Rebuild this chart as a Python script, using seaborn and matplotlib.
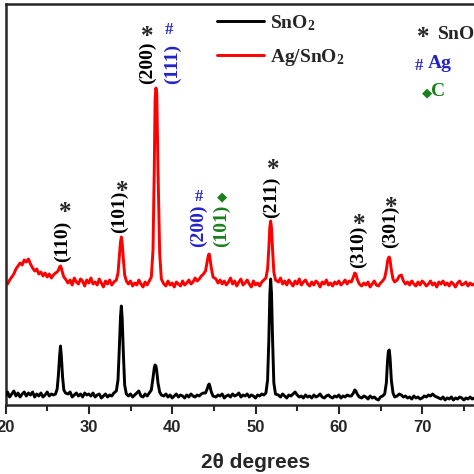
import numpy as np
import pandas as pd
import matplotlib.pyplot as plt
import seaborn as sns

# 2-theta positions (deg); baseline every 0.25 deg, denser on peaks
two_theta = [
    19.5, 19.75, 20.0, 20.25, 20.5, 20.75, 21.0, 21.25, 21.5, 21.75, 22.0, 22.25, 22.5,
    22.75, 23.0, 23.25, 23.5, 23.75, 24.0, 24.25, 24.5, 24.75, 25.0, 25.25, 25.5, 25.75,
    26.0, 26.2, 26.35, 26.5, 26.6, 26.7, 26.85, 27.0, 27.2,
    27.5, 27.75, 28.0, 28.25, 28.5, 28.75, 29.0, 29.25, 29.5, 29.75, 30.0, 30.25, 30.5,
    30.75, 31.0, 31.25, 31.5, 31.75, 32.0, 32.25, 32.5, 32.75, 33.0,
    33.3, 33.5, 33.65, 33.8, 33.9, 34.0, 34.15, 34.3, 34.5,
    34.75, 35.0, 35.25, 35.5, 35.75, 36.0, 36.25, 36.5, 36.75, 37.0, 37.25,
    37.5, 37.7, 37.85, 37.95, 38.05, 38.15, 38.3, 38.5, 38.7,
    39.0, 39.25, 39.5, 39.75, 40.0, 40.25, 40.5, 40.75, 41.0, 41.25, 41.5, 41.75, 42.0,
    42.25, 42.5, 42.75, 43.0, 43.25, 43.5, 43.75,
    44.0, 44.2, 44.35, 44.45, 44.55, 44.7, 44.9,
    45.25, 45.5, 45.75, 46.0, 46.25, 46.5, 46.75, 47.0, 47.25, 47.5, 47.75, 48.0, 48.25,
    48.5, 48.75, 49.0, 49.25, 49.5, 49.75, 50.0, 50.25, 50.5, 50.75, 51.0,
    51.25, 51.45, 51.6, 51.72, 51.82, 51.92, 52.05, 52.2, 52.4,
    52.75, 53.0, 53.25, 53.5, 53.75, 54.0, 54.25, 54.5, 54.75, 55.0, 55.25, 55.5, 55.75,
    56.0, 56.25, 56.5, 56.75, 57.0, 57.25, 57.5, 57.75, 58.0, 58.25, 58.5, 58.75, 59.0,
    59.25, 59.5, 59.75, 60.0, 60.25, 60.5, 60.75, 61.0, 61.25,
    61.5, 61.75, 61.9, 62.05, 62.2, 62.45,
    62.75, 63.0, 63.25, 63.5, 63.75, 64.0, 64.25, 64.5, 64.75, 65.0, 65.25,
    65.5, 65.7, 65.85, 65.95, 66.05, 66.15, 66.3, 66.5, 66.7,
    67.0, 67.25, 67.5, 67.75, 68.0, 68.25, 68.5, 68.75, 69.0, 69.25, 69.5, 69.75, 70.0,
    70.25, 70.5, 70.75, 71.0, 71.25, 71.5, 71.75, 72.0, 72.25, 72.5, 72.75, 73.0, 73.25,
    73.5, 73.75, 74.0, 74.25, 74.5, 74.75, 75.0, 75.25, 75.5, 75.75, 76.0, 76.25, 76.5,
]

# intensity (a.u.), SnO2
sno2 = [
    10, 12, 9, 13, 8, 11, 14, 9, 12, 8, 11, 13, 9, 12, 10, 13, 8, 11, 9, 12, 8, 10, 13, 9, 11, 10,
    11, 16, 30, 50, 59, 49, 28, 15, 12,
    11, 13, 8, 10, 12, 9, 11, 8, 12, 10, 11, 9, 12, 8, 10, 11, 7, 9, 11, 8, 10, 9, 12,
    14, 25, 55, 88, 99, 87, 50, 20, 11,
    9, 11, 8, 10, 12, 14, 9, 8, 11, 9, 12,
    15, 27, 37, 40, 39, 34, 22, 13, 10,
    9, 11, 8, 10, 7, 9, 11, 8, 10, 9, 7, 10, 8, 11, 9, 8, 10, 9, 11, 12,
    12, 16, 20, 21, 18, 13, 9,
    8, 10, 9, 11, 7, 9, 10, 8, 11, 9, 10, 12, 8, 10, 9, 11, 8, 10, 9, 7, 10, 9, 11, 10,
    12, 25, 65, 110, 126, 112, 65, 22, 11,
    10, 8, 11, 9, 7, 10, 9, 11, 13, 10, 8, 9, 7, 10, 8, 9, 7, 10, 8, 9, 11, 8, 7, 9, 10,
    8, 7, 9, 8, 10, 7, 9, 8, 10, 9,
    9, 12, 15, 14, 11, 8,
    7, 9, 8, 6, 9, 7, 8, 6, 5, 8, 9,
    11, 22, 45, 54, 55, 47, 25, 12, 8,
    9, 11, 10, 8, 9, 7, 8, 6, 9, 7, 8, 6, 7, 9, 8, 10, 9, 11, 9, 8, 7, 6, 8, 5, 7, 6,
    8, 5, 7, 6, 8, 7, 5, 7, 6, 8, 6, 7, 6,
]

# intensity (a.u.), Ag/SnO2 (offset trace)
ag_sno2 = [
    121, 119, 123, 121, 125, 128, 131, 136, 139, 142, 140, 145, 143, 146, 141, 137, 134,
    136, 131, 133, 129, 132, 128, 131, 127, 130,
    132, 133, 135, 138, 139, 137, 132, 128, 126,
    122, 125, 120, 127, 123, 121, 126, 124, 119, 125, 122, 127, 121, 123, 120, 126, 122,
    118, 124, 121, 125, 120, 123,
    125, 132, 148, 163, 168, 162, 145, 130, 124,
    121, 124, 119, 122, 120, 125, 121, 118, 123, 120, 124,
    128, 155, 235, 305, 317, 312, 235, 152, 126,
    121, 119, 124, 120, 122, 118, 123, 121, 119, 124, 120, 122, 125, 121, 123, 127, 124,
    126, 129, 131,
    134, 143, 150, 151, 146, 137, 128,
    126, 122, 125, 121, 124, 120, 123, 127, 121, 124, 119, 123, 126, 120, 122, 125, 121,
    118, 124, 120, 122, 119, 123, 125,
    127, 136, 157, 178, 184, 177, 155, 133, 125,
    123, 127, 121, 124, 120, 125, 122, 119, 124, 121, 126, 120, 123, 125, 121, 119, 123,
    120, 124, 122, 118, 123, 121, 125, 120, 122, 119, 123, 121, 124, 120, 122, 125, 121, 124,
    123, 128, 132, 131, 126, 121,
    119, 122, 120, 123, 118, 121, 124, 120, 119, 122, 124,
    127, 135, 144, 147, 148, 145, 135, 126, 123,
    125, 129, 130, 124, 121, 123, 120, 124, 121, 119, 123, 120, 124, 122, 119, 121, 124,
    120, 122, 118, 123, 121, 124, 120, 122, 119, 123, 121, 118, 122, 124, 120, 121, 123,
    119, 122, 120, 121, 123,
]

samples = ["SnO$_2$", "Ag/SnO$_2$"]
xticks = [20, 30, 40, 50, 60, 70]

# reflection labels
hkl = ["(110)", "(101)", "(200)", "(111)", "(200)", "(101)", "(211)", "(310)", "(301)"]
hkl_x = [26.86, 33.7, 37.0, 39.98, 43.14, 45.86, 51.94, 62.3, 66.2]
hkl_y = [143, 172, 321, 321, 158, 158, 187, 137, 157]
hkl_col = ["black", "black", "black", "#2222c8", "#2222c8", "#1a801a", "black", "black", "black"]

star_x = [27.14, 34.0, 37.0, 52.1, 62.42, 66.26]
star_y = [186, 207, 362, 229, 174, 191]

blue = "#2222c8"
green = "#1a801a"

sns.set_style("ticks")
plt.rcParams["font.family"] = ["Liberation Serif", "DejaVu Sans"]
plt.rcParams["mathtext.fontset"] = "custom"
plt.rcParams["mathtext.rm"] = "Liberation Serif:bold"
plt.rcParams["mathtext.it"] = "Liberation Serif:bold"
plt.rcParams["mathtext.bf"] = "Liberation Serif:bold"

fig = plt.figure(figsize=(4.74, 4.74), dpi=100, facecolor="white")
ax = fig.add_axes([5.5 / 474, 69 / 474, 500 / 474, 401 / 474])

df = pd.concat([
    pd.DataFrame({"two_theta": two_theta, "intensity": sno2, "sample": samples[0]}),
    pd.DataFrame({"two_theta": two_theta, "intensity": ag_sno2, "sample": samples[1]}),
])
sns.lineplot(data=df, x="two_theta", y="intensity", hue="sample", hue_order=samples,
             palette=["black", "#ff0000"], lw=2.1, estimator=None, sort=False, ax=ax)
ax.lines[0].set_zorder(3)

handles, labels = ax.get_legend_handles_labels()
ax.legend(handles, labels, loc="upper left", bbox_to_anchor=(217 / 474, 1 - 13 / 474),
          bbox_transform=fig.transFigure, frameon=False,
          prop={"family": "Liberation Serif", "weight": "bold", "size": 14},
          handlelength=2.4, handletextpad=0.3, labelspacing=0.75,
          borderpad=0, borderaxespad=0)

ax.set_xlim(20, 80)
ax.set_ylim(0, 401)
ax.set_xticks(xticks)
ax.set_xticks([25, 35, 45, 55, 65, 75], minor=True)
ax.set_yticks([])
ax.tick_params(axis="x", which="major", direction="out", length=6.5, width=1.5, pad=4, labelsize=12)
ax.tick_params(axis="x", which="minor", direction="out", length=4.3, width=1.5)
for lab in ax.get_xticklabels():
    lab.set_family("Liberation Sans")
    lab.set_weight("bold")
ax.set_xlabel("2θ degrees", family="Liberation Sans", weight="bold", size=15, labelpad=13)
ax.set_ylabel("")
for s in ax.spines.values():
    s.set_linewidth(1.8)

for t, x, y, c in zip(hkl, hkl_x, hkl_y, hkl_col):
    ax.text(x, y, t, rotation=90, ha="center", va="bottom", color=c,
            fontsize=14, fontweight="bold", family="Liberation Serif")
for x, y in zip(star_x, star_y):
    ax.text(x, y, "*", ha="center", va="baseline", fontsize=18, fontweight="bold")
ax.text(39.62, 371, "#", ha="center", va="baseline", color=blue, fontsize=12, fontweight="bold")
ax.text(43.22, 204, "#", ha="center", va="baseline", color=blue, fontsize=12, fontweight="bold")
ax.text(45.98, 205, "◆", ha="center", va="baseline", color=green, fontsize=9.5, family="DejaVu Sans")

# phase key on the right
ax.text(70.16, 361, "*", ha="center", va="baseline", fontsize=18, fontweight="bold")
ax.text(71.8, 371, "SnO$_2$", ha="left", va="center", fontsize=14, fontweight="bold")
ax.text(69.1, 335, "#", ha="left", va="baseline", color=blue, fontsize=12, fontweight="bold")
ax.text(70.7, 341, "Ag", ha="left", va="center", color=blue, fontsize=14, fontweight="bold")
ax.text(69.98, 309, "◆", ha="left", va="baseline", color=green, fontsize=9.5, family="DejaVu Sans")
ax.text(71.06, 313, "C", ha="left", va="center", color=green, fontsize=14, fontweight="bold")

fig.savefig("out.png", dpi=100, facecolor="white")
